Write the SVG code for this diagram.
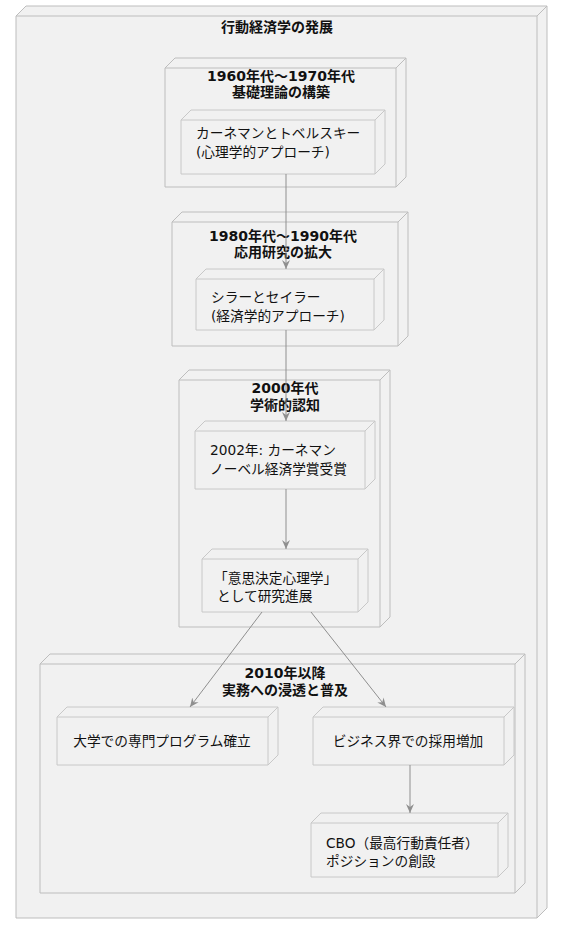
<svg xmlns="http://www.w3.org/2000/svg" width="564" height="934" viewBox="0 0 564 934">
<defs>
<style>
.box{fill:#f1f1f1;stroke:#bdbdbd;stroke-width:1}
.edge{fill:none;stroke:#bdbdbd;stroke-width:1}
.ibox{fill:#f1f1f1;stroke:#c8c8c8;stroke-width:1}
.iedge{fill:none;stroke:#c8c8c8;stroke-width:1}
.ttl{font-family:"DejaVu Sans","Noto Sans CJK JP",sans-serif;font-size:14px;font-weight:bold;fill:#111;text-anchor:middle}
.txt{font-family:"DejaVu Sans","Noto Sans CJK JP",sans-serif;font-size:13.7px;fill:#111}
.conn{fill:none;stroke:#8f8f8f;stroke-width:1}
</style>
<marker id="arr" viewBox="0 0 10 10" refX="9" refY="5" markerWidth="10" markerHeight="10" markerUnits="userSpaceOnUse" orient="auto">
<path d="M0,1 L9,5 L0,9 L3,5 Z" fill="#8f8f8f"/>
</marker>
</defs>
<rect width="564" height="934" fill="#ffffff"/>

<g id="outer">
<path class="box" d="M16,16 L26,6 L547,6 L547,908 L537,918 L16,918 Z"/>
<path class="edge" d="M16,16 L537,16 L547,6 M537,16 L537,918"/>
<text class="ttl" x="277" y="32">行動経済学の発展</text>
</g>

<g id="era1960">
<path class="box" d="M165,68 L175,58 L406,58 L406,177 L396,187 L165,187 Z"/>
<path class="edge" d="M165,68 L396,68 L406,58 M396,68 L396,187"/>
<text class="ttl" x="281" y="81">1960年代～1970年代</text>
<text class="ttl" x="281" y="96.5">基礎理論の構築</text>
</g>
<g id="kt">
<path class="ibox" d="M181,120 L191,110 L385,110 L385,164 L375,174 L181,174 Z"/>
<path class="iedge" d="M181,120 L375,120 L385,110 M375,120 L375,174"/>
<text class="txt" x="196" y="138">カーネマンとトベルスキー</text>
<text class="txt" x="196" y="157">(心理学的アプローチ)</text>
</g>

<g id="era1980">
<path class="box" d="M172,222 L182,212 L408,212 L408,336 L398,346 L172,346 Z"/>
<path class="edge" d="M172,222 L398,222 L408,212 M398,222 L398,346"/>
<text class="ttl" x="283" y="241">1980年代～1990年代</text>
<text class="ttl" x="283" y="256.5">応用研究の拡大</text>
</g>
<g id="st">
<path class="ibox" d="M196,279 L206,269 L384,269 L384,320 L374,330 L196,330 Z"/>
<path class="iedge" d="M196,279 L374,279 L384,269 M374,279 L374,330"/>
<text class="txt" x="211" y="302">シラーとセイラー</text>
<text class="txt" x="211" y="321">(経済学的アプローチ)</text>
</g>

<g id="era2000">
<path class="box" d="M179,380 L189,370 L390,370 L390,617 L380,627 L179,627 Z"/>
<path class="edge" d="M179,380 L380,380 L390,370 M380,380 L380,627"/>
<text class="ttl" x="285" y="393">2000年代</text>
<text class="ttl" x="285" y="409.5">学術的認知</text>
</g>
<g id="nobel">
<path class="ibox" d="M195,431 L205,421 L375,421 L375,479 L365,489 L195,489 Z"/>
<path class="iedge" d="M195,431 L365,431 L375,421 M365,431 L365,489"/>
<text class="txt" x="210" y="455">2002年: カーネマン</text>
<text class="txt" x="210" y="474">ノーベル経済学賞受賞</text>
</g>
<g id="dm">
<path class="ibox" d="M202,559 L212,549 L368,549 L368,602 L358,612 L202,612 Z"/>
<path class="iedge" d="M202,559 L358,559 L368,549 M358,559 L358,612"/>
<text class="txt" x="214" y="583">「意思決定心理学」</text>
<text class="txt" x="217" y="601">として研究進展</text>
</g>

<g id="era2010">
<path class="box" d="M40,664 L50,654 L525,654 L525,883 L515,893 L40,893 Z"/>
<path class="edge" d="M40,664 L515,664 L525,654 M515,664 L515,893"/>
<text class="ttl" x="285" y="678">2010年以降</text>
<text class="ttl" x="285" y="694.5">実務への浸透と普及</text>
</g>
<g id="univ">
<path class="ibox" d="M57,717 L67,707 L278,707 L278,755 L268,765 L57,765 Z"/>
<path class="iedge" d="M57,717 L268,717 L278,707 M268,717 L268,765"/>
<text class="txt" x="162" y="746" text-anchor="middle">大学での専門プログラム確立</text>
</g>
<g id="biz">
<path class="ibox" d="M313,717 L323,707 L514,707 L514,755 L504,765 L313,765 Z"/>
<path class="iedge" d="M313,717 L504,717 L514,707 M504,717 L504,765"/>
<text class="txt" x="408" y="746" text-anchor="middle">ビジネス界での採用増加</text>
</g>
<g id="cbo">
<path class="ibox" d="M311,823 L321,813 L508,813 L508,867 L498,877 L311,877 Z"/>
<path class="iedge" d="M311,823 L498,823 L508,813 M498,823 L498,877"/>
<text class="txt" x="326" y="848">CBO（最高行動責任者）</text>
<text class="txt" x="326" y="866">ポジションの創設</text>
</g>

<g id="connectors">
<path class="conn" marker-end="url(#arr)" d="M286,174 L286,269"/>
<path class="conn" marker-end="url(#arr)" d="M286,330 L286,421"/>
<path class="conn" marker-end="url(#arr)" d="M286,489 L286,549"/>
<path class="conn" marker-end="url(#arr)" d="M262,612 L190,707"/>
<path class="conn" marker-end="url(#arr)" d="M311,612 L386,707"/>
<path class="conn" marker-end="url(#arr)" d="M410,765 L410,813"/>
</g>
</svg>
